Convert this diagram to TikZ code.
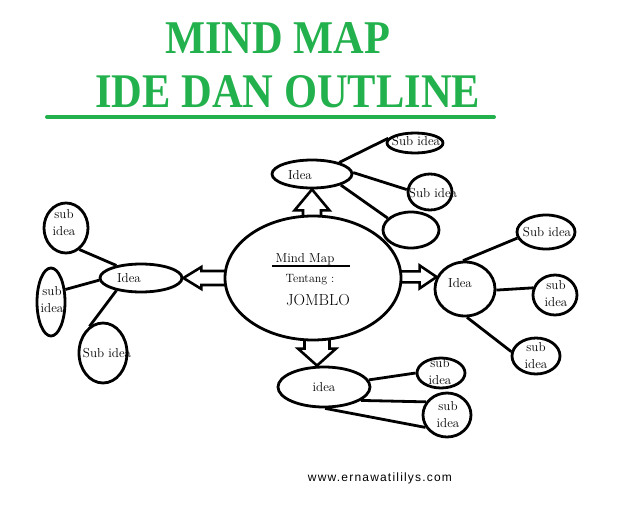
\documentclass[tikz,border=0pt]{standalone}
\usepackage{fontspec}
\usepackage{graphicx}
\usetikzlibrary{shapes.geometric,calc}
\newfontfamily\titlefont{Liberation Serif}
\newfontfamily\webfont[LetterSpace=10]{Liberation Sans}
\definecolor{titlegreen}{RGB}{34,177,76}
\pgfdeclarelayer{bg}
\pgfsetlayers{bg,main}
\begin{document}
\begin{tikzpicture}[x=1pt,y=-1pt,
  bub/.style={draw,ellipse,line width=2.8pt,inner sep=0pt,fill=white},
  lbl/.style={font=\fontsize{13}{17}\selectfont,inner sep=0pt,align=center},
  link/.style={line width=2.8pt},
  barrow/.style={draw,line width=2.6pt,fill=white,line join=miter}]
\useasboundingbox (0,0) rectangle (624,514);
% title
\node[inner sep=0pt,text=titlegreen,anchor=north west] (t1) at (165,22)
  {\resizebox{225pt}{31pt}{\titlefont\bfseries MIND MAP}};
\node[inner sep=0pt,text=titlegreen,anchor=north west] (t2) at (95,75)
  {\resizebox{385pt}{32pt}{\titlefont\bfseries IDE DAN OUTLINE}};
\coordinate (u1) at (47,117);
\coordinate (u2) at (494,117);
\draw[titlegreen,line width=4pt,line cap=round] (u1) -- (u2);
% ellipses
\node[bub,minimum width=176pt,minimum height=124pt] (C) at (313,278) {};
\node[bub,minimum width=80pt,minimum height=28pt] (T) at (312,174) {};
\node[bub,minimum width=56pt,minimum height=20pt] (TS1) at (415,143) {};
\node[bub,minimum width=44pt,minimum height=36pt] (TS2) at (430,192) {};
\node[bub,minimum width=56pt,minimum height=36pt] (TS3) at (411,230) {};
\node[bub,minimum width=60pt,minimum height=54pt] (R) at (465,289) {};
\node[bub,minimum width=58pt,minimum height=34pt] (RS1) at (546,232) {};
\node[bub,minimum width=44pt,minimum height=40pt] (RS2) at (555,295) {};
\node[bub,minimum width=48pt,minimum height=36pt] (RS3) at (536,356) {};
\node[bub,minimum width=82pt,minimum height=28pt] (L) at (141,278) {};
\node[bub,minimum width=44pt,minimum height=50pt] (LS1) at (66,228) {};
\node[bub,minimum width=28pt,minimum height=68pt] (LS2) at (51,302) {};
\node[bub,minimum width=48pt,minimum height=60pt] (LS3) at (103,353) {};
\node[bub,minimum width=92pt,minimum height=40pt] (B) at (324,387) {};
\node[bub,minimum width=48pt,minimum height=30pt] (BS1) at (441,373) {};
\node[bub,minimum width=48pt,minimum height=44pt] (BS2) at (447,415) {};
% links
\draw[link] (T.23) -- (TS1.170);
\draw[link] (T.2) -- (TS2.174);
\draw[link] (T.-21) -- (TS3.153);
\draw[link] (R.94) -- (RS1.192);
\draw[link] (R.-2) -- (RS2.162);
\draw[link] (R.-86) -- (RS3.170);
\draw[link] (L.153) -- (LS1.-58);
\draw[link] (L.183) -- (LS2.41);
\draw[link] (L.207) -- (LS3.117);
\draw[link] (B.9) -- (BS1.180);
\draw[link] (B.-20) -- (BS2.148);
\draw[link] (B.-87) -- (BS2.210);
% block arrows
\coordinate (dtip) at ($(B.north -| C.south)+(4,0)$);
\begin{pgfonlayer}{bg}
\draw[barrow] (T.south) -- ++(17.5,21) -- ++(-8.5,0) -- ($(T.south |- C.north)+(9,8)$)
  -- ++(-18,0) -- ($(T.south)+(-9,21)$) -- ++(-8.5,0) -- cycle;
\draw[barrow] (R.157) -- ++(-17,-11.5) -- ++(0,6) -- ($(C.east |- R.157)+(-8,-5.5)$)
  -- ++(0,11) -- ($(R.157)+(-17,5.5)$) -- ++(0,6) -- cycle;
\draw[barrow] (L.east) -- ++(18,-11) -- ++(0,4) -- ($(C.west |- L.east)+(8,-7)$)
  -- ++(0,14) -- ($(L.east)+(18,7)$) -- ++(0,4) -- cycle;
\draw[barrow] (dtip) -- ++(19,-17) -- ++(-6.5,0) -- ($(dtip |- C.south)+(12.5,-8)$)
  -- ++(-25,0) -- ($(dtip)+(-12.5,-17)$) -- ++(-6.5,0) -- cycle;
\end{pgfonlayer}
% centre texts
\node[lbl] (mm) at (305,259) {Mind Map};
\coordinate (ul1) at (272,266);
\coordinate (ul2) at (350,266);
\draw[line width=2.4pt] (ul1) -- (ul2);
\node[lbl,font=\fontsize{12}{13}\selectfont] (tt) at (310,280) {Tentang :};
\node[lbl,font=\fontsize{16}{17}\selectfont] (jb) at (318,300) {JOMBLO};
% labels
\node[lbl] (Tt) at (300,175) {Idea};
\node[lbl] (TS1t) at (416,141) {Sub idea};
\node[lbl] (TS2t) at (433,193) {Sub idea};
\node[lbl] (Rt) at (460,283) {Idea};
\node[lbl] (RS1t) at (547,232) {Sub idea};
\node[lbl] (RS2t) at (556,294) {sub\\idea};
\node[lbl] (RS3t) at (536,356) {sub\\idea};
\node[lbl] (Lt) at (129,278) {Idea};
\node[lbl] (LS1t) at (64,223) {sub\\idea};
\node[lbl] (LS2t) at (52,300) {sub\\idea};
\node[lbl] (LS3t) at (107,353) {Sub idea};
\node[lbl] (Bt) at (324,387) {idea};
\node[lbl] (BS1t) at (440,372) {sub\\idea};
\node[lbl] (BS2t) at (448,415) {sub\\idea};
% website
\node[inner sep=0pt,font=\webfont\fontsize{12}{14}\selectfont] (web) at (380,478) {www.ernawatililys.com};
\end{tikzpicture}
\end{document}
